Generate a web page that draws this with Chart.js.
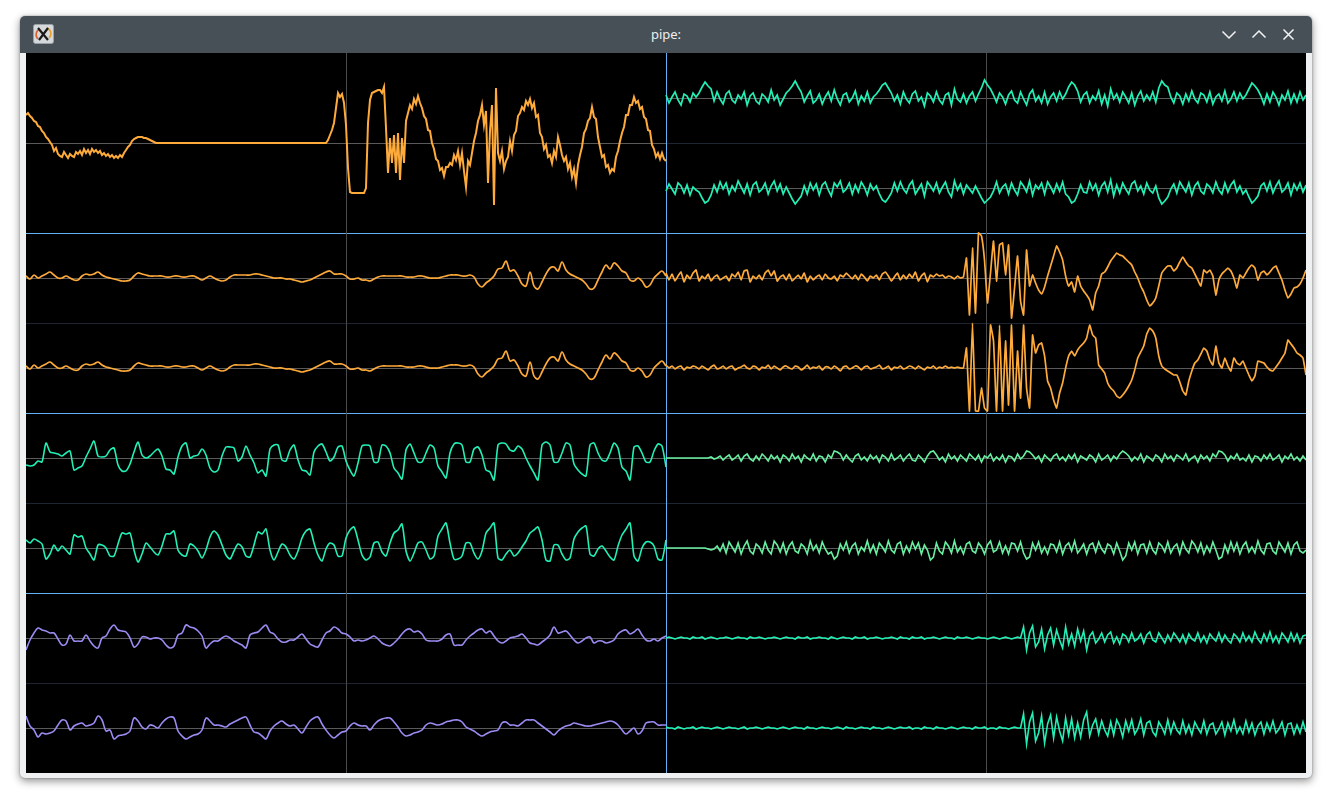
<!DOCTYPE html>
<html>
<head>
<meta charset="utf-8">
<title>pipe:</title>
<script src="https://cdn.jsdelivr.net/npm/chart.js@4.4.1/dist/chart.umd.min.js"></script>
<style>
  html, body { margin:0; padding:0; width:1332px; height:803px; background:#ffffff; overflow:hidden; }
  #win { position:absolute; left:20px; top:16px; width:1292px; height:762px; background:#eff0f1;
         border-radius:5px; box-shadow:0 3px 9px rgba(0,0,0,0.45), 0 0 2px rgba(0,0,0,0.35); overflow:hidden; }
  #bar { position:absolute; left:0; top:0; width:1292px; height:37px; background:#475057; }
  #title { position:absolute; left:0; top:0; width:1292px; height:37px; line-height:37px; text-align:center;
           color:#eceef0; font-family:"Noto Sans","DejaVu Sans",sans-serif; font-size:13px; }
  #icon { position:absolute; left:13px; top:8px; }
  .btn { position:absolute; }
  #plot { position:absolute; left:6px; top:37px; width:1280px; height:720px; background:#000; }
</style>
</head>
<body>
<div id="win">
  <div id="bar"></div>
  <svg id="icon" width="21" height="20" viewBox="0 0 21 20">
    <rect x="0.5" y="0.5" width="20" height="19" rx="2" fill="#d6d9dc" stroke="#9aa0a5"/>
    <path d="M5 15 A6 6 0 0 1 7 5" stroke="#e0602a" stroke-width="1.6" fill="none"/>
    <path d="M14 4 A6 6 0 0 1 16 14" stroke="#e8a030" stroke-width="1.6" fill="none"/>
    <path d="M5 4 L15 16 M15 4 L6 16" stroke="#1a1a1a" stroke-width="2.2" fill="none"/>
  </svg>
  <div id="title">pipe:</div>
  <svg class="btn" style="left:1201px;top:14px" width="16" height="10" viewBox="0 0 16 10">
    <polyline points="1.5,1.5 8,8 14.5,1.5" stroke="#f2f3f4" stroke-width="1.5" fill="none"/>
  </svg>
  <svg class="btn" style="left:1231px;top:13px" width="16" height="10" viewBox="0 0 16 10">
    <polyline points="1.5,8.5 8,2 14.5,8.5" stroke="#f2f3f4" stroke-width="1.5" fill="none"/>
  </svg>
  <svg class="btn" style="left:1262px;top:12px" width="13" height="13" viewBox="0 0 13 13">
    <path d="M1.5 1.5 L11.5 11.5 M11.5 1.5 L1.5 11.5" stroke="#f2f3f4" stroke-width="1.5" fill="none"/>
  </svg>
  <canvas id="plot" width="1280" height="720"></canvas>
</div>
<script>
// ---------------- data: sample values per trace (amplitude, positive = up) ----------------
// row 1, left half: one wide orange channel
const ORANGE_WIDE_L = [
28,30,27,25,22,21,17,16,12,10,
6,4,1,-2,-8,-5,-11,-13,-14,-9,
-12,-15,-11,-13,-14,-9,-11,-8,-12,-6,
-10,-7,-11,-6,-9,-7,-10,-8,-12,-10,
-13,-11,-14,-12,-15,-13,-15,-12,-14,-10,
-7,-4,-2,2,4,5,6,6,6,5,
5,4,3,2,1,0,
0,0,0,0,0,0,0,0,0,0,
0,0,0,0,0,0,0,0,0,0,
0,0,0,0,0,0,0,0,0,0,
0,0,0,0,0,0,0,0,0,0,
0,0,0,0,0,0,0,0,0,0,
0,0,0,0,0,0,0,0,0,0,
0,0,0,0,0,0,0,0,0,0,
0,0,0,0,0,0,0,0,0,0,
0,0,0,0,0,
3,8,13,20,35,50,46,49,40,18,
-25,-49,-50,-50,-50,-50,-50,-50,-50,-45,
20,43,50,51,52,53,53,50,56,15,
-30,5,-20,8,-30,10,-37,5,-20,22,
30,38,34,44,39,47,40,35,27,24,
13,12,0,-6,-16,-18,-27,-25,-33,-24,
-24,-20,-22,-12,-17,-8,-22,-10,-28,-44,
-18,-22,-10,2,10,22,28,38,18,32,
-40,12,38,-62,55,-10,-18,-8,-26,-18,
-14,2,-8,8,12,27,30,36,33,42,
38,44,35,40,26,28,10,6,-6,-2,
-14,-12,-20,-8,-14,6,-2,-12,-18,-14,
-26,-20,-34,-26,-40,-22,-12,-4,10,14,
22,25,36,26,24,6,-4,-14,-12,-24,
-22,-30,-26,-28,-14,-8,2,10,16,28,
28,38,38,46,40,42,34,36,26,24,
13,12,-2,-6,-14,-10,-16,-10,-16,-18
];
// row 1, right half: two teal channels
const TEAL_R1_TOP = [
3,-5,1,6,-2,-7,4,2,-4,5,
1,5,11,16,12,9,-3,6,-1,-6,
4,7,-2,-5,3,-1,6,-7,2,5,
-3,-6,4,1,-4,8,-2,3,-7,-1,
5,8,12,17,11,6,-4,2,7,-5,
-2,4,-6,1,6,-3,8,-1,-7,3,
5,-4,0,7,-6,2,-3,6,-5,1,
4,8,13,15,10,5,-3,3,-6,6,
-1,-5,4,7,-3,1,-8,5,2,-4,
6,-2,-6,3,5,-7,9,-1,-4,4,
-5,2,6,-3,4,10,18,13,9,3,
-4,5,1,-6,3,7,-2,-5,6,-1,
-7,4,8,-3,2,-5,6,-6,1,5,
-3,6,-1,4,11,16,13,7,-4,3,
6,-5,2,-2,7,-6,3,-8,9,-1,
4,-4,6,1,-5,5,-7,2,7,-3,
3,-2,6,-4,10,17,13,11,1,-5,
5,2,-6,4,-3,7,-1,-5,5,3,
-4,6,-6,1,4,-3,7,-5,-1,6,
-3,5,-1,3,9,15,12,8,2,-6,
4,-4,6,1,-7,3,-2,7,-5,4,
-4,6,-2,3
];
const TEAL_R1_BOT = [
-3,4,-1,-6,5,2,-5,3,-7,1,
-2,-4,-10,-15,-13,-7,3,-4,6,-1,
5,-6,2,-3,7,1,-5,4,-7,3,
6,-4,-1,5,-6,2,7,-3,4,-6,
1,-5,-11,-16,-12,-8,2,-6,5,-2,
4,-7,3,6,-2,-8,5,1,7,-4,
-1,5,-6,3,-4,6,1,-7,4,-2,
2,-6,-12,-14,-10,-5,5,-3,6,-1,
-5,3,7,-6,-1,4,-8,6,2,-3,
5,-5,1,6,-4,-9,7,-2,4,-6,
3,-1,-5,2,-4,-10,-15,-12,-9,-3,
6,-5,1,4,-6,5,-2,-7,6,2,
-4,7,-7,3,-1,5,-6,6,1,-5,
4,-3,6,-6,-9,-15,-13,-6,3,-4,
-5,6,-2,4,-7,2,6,-4,8,-8,
3,-5,5,-1,-6,4,7,-3,2,-6,
5,-2,-5,2,-10,-16,-13,-9,-1,4,
-5,6,1,-4,5,-7,2,6,-3,-6,
4,1,-5,6,-2,-6,5,-4,3,7,
-4,2,-6,-2,-9,-15,-12,-8,2,5,
-3,6,-5,2,7,-4,-1,5,-7,4,
-2,5,-4,3
];
// row 2, left half: orange (both channels carry the same signal)
const ORANGE_L2 = [
2,-1,3,0,2,4,6,3,0,0,
2,0,-2,-2,2,4,3,4,6,3,
1,0,-1,-2,-3,-3,-2,2,5,4,
3,2,2,2,2,1,1,2,2,1,
1,2,2,0,-2,0,2,0,-2,-3,
-2,1,3,3,3,3,3,4,4,3,
2,1,0,0,0,-1,-1,-2,-3,-4,
-3,-2,0,2,4,6,7,4,4,4,
2,-1,-1,0,-2,-2,-3,-1,1,2,
2,2,2,2,2,1,1,1,2,2,
1,0,0,0,1,2,3,3,3,2,
2,3,1,-6,-9,-5,-2,2,9,10,
17,7,8,2,-6,-8,6,-8,-11,-4,
4,10,11,7,16,8,4,2,0,-2,
-6,-11,-10,-2,6,13,9,15,12,7,
5,-2,-3,0,-3,-9,-7,0,4,7,
2
];
// row 2, right half: orange channels
const ORANGE_R2_TOP = [
5,-2,4,-3,2,6,-4,3,-1,5,
8,-3,2,-1,4,-3,1,3,-2,0,
2,-3,4,1,6,-2,7,8,-4,2,
-1,3,-2,5,8,2,7,-3,1,3,
-2,4,-3,0,3,-1,5,-4,2,-2,
1,3,-2,4,0,-1,2,-3,3,1,
5,2,-1,3,-2,4,1,-3,2,0,
3,-2,4,6,2,-3,1,5,-2,3,
-1,4,0,6,-3,2,5,-4,3,1,
4,2,3,0,2,1,-1,2,0,1,
20,-37,30,-35,45,42,18,-25,5,37,
-3,33,35,3,33,-40,-10,22,-23,-37,
28,-8,3,-5,-12,-16,-9,2,12,22,
32,26,18,2,-8,-4,-14,2,-8,-13,
-17,-22,-32,-15,-8,4,6,11,17,21,
25,23,22,19,16,13,6,0,-8,-14,
-22,-28,-25,-20,-8,5,9,12,12,7,
10,16,21,16,12,10,4,-2,-8,8,
5,8,2,-17,-2,4,7,10,7,0,
-10,3,0,5,10,13,10,-2,5,7,
3,6,10,12,5,-2,-12,-20,-16,-10,
-9,-6,0,8
];
const ORANGE_R2_BOT = [
3,0,2,-1,1,2,-2,1,0,2,
1,-1,2,0,-2,1,3,-1,0,2,
-1,1,2,-2,0,1,3,0,-1,2,
1,-2,1,0,3,-1,2,0,-2,1,
2,0,-1,2,1,-2,0,3,-1,1,
0,2,-2,1,1,-1,2,0,-3,1,
2,-1,0,2,1,-2,1,2,-1,0,
1,3,-1,0,2,-2,1,0,2,-1,
0,2,1,-1,2,0,-2,1,0,2,
-1,1,0,2,0,1,0,1,0,0,
20,-43,45,-43,-43,-20,-40,-43,43,27,
-43,43,-43,27,-37,43,-43,17,-30,43,
-20,-40,33,15,23,25,12,-13,-20,-32,
-40,-25,-15,0,12,17,12,18,22,25,
30,43,33,30,3,-1,-5,-15,-20,-23,
-28,-30,-27,-23,-18,-12,-2,10,16,22,
34,40,37,30,12,2,-1,-3,-5,-7,
-7,-14,-23,-27,-13,-3,5,8,14,20,
17,8,3,22,5,0,10,2,-3,10,
5,3,7,0,-7,-13,-8,7,6,5,
1,-2,-3,1,5,10,15,28,24,20,
15,13,10,-7
];
// row 3, left half: teal channels
const TEAL_L3_TOP = [
-7,-8,-7,-3,-4,15,6,5,4,2,
5,7,-12,-10,-8,1,9,17,2,1,
2,8,10,-7,-13,-13,-6,6,16,3,
0,2,6,9,2,-11,-12,-16,1,12,
15,0,2,3,9,3,-10,-14,-12,2,
11,11,10,-3,1,12,3,-5,-15,-12,
-18,9,13,13,-2,-3,8,13,-2,-12,
-13,-17,6,12,14,6,-3,1,11,12,
-3,-12,-18,-5,12,13,12,-4,-4,13,
12,5,-10,-15,-21,8,14,5,-4,-4,
5,13,10,-8,-14,-20,5,14,15,13,
-4,-4,9,11,3,-12,-14,-22,13,15,
14,8,7,12,9,0,-8,-15,-22,13,
16,13,-4,-4,5,15,13,-6,-12,-16,
-18,13,15,5,-2,-3,5,15,10,-9,
-13,-22,11,12,5,-4,-4,7,14,12,
-9
];
const TEAL_L3_BOT = [
8,5,9,7,4,-11,-6,3,-3,2,
-2,-6,13,11,12,0,-6,-12,3,3,
0,-8,-8,4,15,14,15,-2,-14,-6,
5,1,-4,-7,2,14,14,17,-2,-7,
-8,4,2,-3,-10,-2,11,17,13,3,
-7,-11,-3,4,1,-8,-9,3,16,14,
19,-2,-12,-4,4,1,-7,-11,-3,10,
17,19,5,-7,-13,-1,5,3,-8,-8,
10,18,21,8,-7,-12,-9,5,6,-4,
-8,5,15,18,24,-3,-13,-5,5,6,
-2,-11,-8,12,19,25,5,-11,-11,-8,
5,5,-5,-11,-3,15,20,25,-10,-12,
-6,-2,-8,-5,1,7,15,18,21,8,
-12,-13,3,3,-6,-12,-10,9,16,20,
22,-6,-8,-1,2,-3,-9,-12,2,13,
19,25,-8,-13,0,6,6,2,-11,-12,
8
];
// row 3, right half: green channels
const MINT_R3_TOP = [
0,0,0,0,0,0,0,0,0,0,
0,0,0,0,0,1,-1,0,2,-2,
1,3,-2,0,3,-3,2,4,-1,-3,
2,-2,4,1,-3,3,-1,2,-4,3,
1,-3,4,-1,2,-4,3,0,-2,4,
-3,2,1,-4,3,0,7,6,4,-2,
3,-1,-4,2,4,-2,1,-3,3,-1,
2,-4,3,1,-3,4,-2,0,3,-3,
1,4,-2,-3,3,0,-4,2,6,7,
3,-2,1,-4,4,-1,2,-3,3,0,
-3,4,1,-2,3,-4,2,0,4,-3,
1,-2,3,-4,2,1,-3,4,-1,2,
7,6,3,-1,2,-4,3,0,-3,2,
4,-2,1,-3,3,-1,4,-4,2,0,
-2,3,1,-4,4,-2,0,3,-3,2,
-1,4,7,5,2,-3,1,-2,4,-4,
2,0,-3,3,1,-4,4,-1,2,-3,
3,1,-2,4,-3,0,2,-4,3,-1,
2,-3,4,1,7,6,3,-3,2,-1,
4,-2,0,-3,3,-4,2,1,-3,3,
-1,4,-2,0,3,-4,2,-1,4,-2,
1,-3,2,-2
];
const MINT_R3_BOT = [
0,0,0,0,0,0,0,0,0,0,
0,0,0,0,-1,-2,-1,2,-3,4,
-5,6,1,-4,5,-6,2,7,-3,-6,
4,1,-5,6,-2,-6,7,3,-4,5,
-6,2,6,-3,-5,4,1,-6,7,-2,
3,-5,6,-1,-6,-4,-11,-8,4,-2,
6,-5,2,5,-6,1,-3,7,-4,3,
-6,5,1,-4,7,-2,-5,4,6,-6,
2,-4,6,-1,5,-6,3,-2,-12,-9,
5,-3,-6,6,2,-5,7,-4,1,-6,
4,6,-3,-5,5,1,-6,3,7,-4,
-2,6,-5,2,-6,5,4,-3,6,-5,
-11,-9,5,-2,6,-5,1,-6,4,3,
-4,6,-6,2,5,-3,7,-5,-1,4,
-6,3,5,-4,6,-1,-5,4,2,-6,
5,-3,-12,-8,5,-2,6,-6,3,4,
-5,6,-2,-6,5,2,-4,6,-5,1,
4,-6,6,-1,-5,7,3,-4,5,-6,
2,-4,6,-2,-11,-9,3,-5,6,-3,
5,-6,2,6,-4,1,-5,7,-2,-6,
4,5,-3,-6,6,1,-4,5,-6,3,
6,-3,-5,-2
];
// row 4, left half: purple channels
const PURPLE_L4_TOP = [
-12,-2,5,10,8,7,5,5,-1,-7,
-6,3,-3,-3,-3,3,-3,-8,-10,0,
2,9,13,8,7,6,0,-9,-6,1,
1,-1,0,0,-2,-7,-10,-8,3,5,
13,11,10,7,2,-10,-6,-3,-3,0,
2,0,-3,-5,-7,-10,3,5,6,10,
13,6,4,-1,-4,-4,-2,-2,1,4,
-1,-6,-8,-9,-2,5,7,11,9,5,
4,1,-3,-2,-3,-2,0,2,-1,-5,
-7,-8,-5,-1,4,8,9,6,7,4,
-2,-3,-3,-3,-1,3,4,-7,-7,-7,
-2,2,5,8,9,5,7,2,-3,-5,
-3,0,1,2,4,0,-5,-6,-7,-4,
-1,3,11,5,6,7,3,-2,-5,-3,
0,1,-5,-3,-3,-5,-4,-2,4,7,
8,4,6,9,3,-2,-3,-1,-3,0,
2
];
const PURPLE_L4_BOT = [
12,2,-2,-9,-5,-6,-5,-3,3,8,
7,-2,2,4,5,2,3,5,12,8,
-3,-2,-11,-8,-7,-6,-3,10,7,1,
-1,3,2,0,5,9,11,10,-3,-8,
-11,-9,-7,-6,-2,10,7,3,3,2,
1,4,6,8,10,11,3,-4,-5,-8,
-11,-3,2,5,7,4,2,3,-1,-5,
1,7,10,11,4,-2,-7,-10,-7,-4,
-3,2,5,3,2,2,-2,3,7,9,
10,10,6,1,-5,-8,-7,-5,-4,-2,
3,5,4,3,4,6,7,8,8,6,
1,-1,-3,-6,-8,-6,-4,-3,-2,5,
6,3,3,2,5,8,8,8,5,2,
-1,-4,-7,-3,0,2,3,5,4,3,
2,2,3,4,5,6,7,6,3,-2,
-6,-3,0,-6,-3,5,6,6,3,3,
3
];
// row 4, right half: teal channels
const TEAL_R4_TOP = [
0,1,0,-1,0,1,0,0,-1,1,
0,0,1,-1,0,1,0,-1,0,0,
1,0,-1,0,1,0,0,-1,1,0,
0,1,0,-1,0,0,1,0,-1,0,
1,0,0,-1,1,0,0,1,-1,0,
0,1,0,0,-1,1,0,-1,0,1,
0,0,-1,1,0,0,1,-1,0,0,
1,0,-1,0,0,1,0,-1,1,0,
0,-1,1,0,0,1,-1,0,0,1,
0,-1,0,1,0,0,-1,1,0,0,
1,0,-1,0,1,0,0,-1,0,1,
0,-1,0,1,0,-1,0,1,0,
11,-12,5,12,-9,-4,9,-11,3,10,
-7,8,-2,-10,11,-6,4,-8,9,-3,
7,-12,2,6,-5,-1,5,-4,3,6,
-5,1,-6,4,2,-4,5,-3,-1,4,
-5,3,6,-2,-4,5,0,-5,3,-3,
5,1,-4,3,-5,4,-1,-3,5,-4,
2,-5,4,0,-3,5,-4,3,-2,-5,
4,1,-4,5,-3,2,-4,6,-1,-5,
4,-3,6,-4,2,-5,5,1,-4,5,
-3,4,-5,2,3
];
const TEAL_R4_BOT = [
1,0,0,-1,1,0,-1,0,0,1,
-1,0,1,0,0,-1,0,1,0,-1,
0,1,0,0,-1,0,1,-1,0,0,
1,0,-1,0,1,0,0,-1,0,1,
0,-1,0,1,0,0,-1,1,0,0,
-1,0,1,0,0,-1,0,1,0,-1,
1,0,0,-1,0,1,0,0,-1,1,
0,0,-1,0,1,0,-1,0,1,0,
0,1,-1,0,0,-1,1,0,0,-1,
1,0,0,-1,0,1,0,-1,0,1,
0,0,-1,1,0,0,1,-1,0,0,
-1,1,0,0,-1,0,1,0,0,
14,-16,6,15,-13,-5,12,-15,4,13,
-10,11,-3,-13,10,-7,9,-10,5,-9,
8,16,-8,3,9,-6,7,-2,-8,6,
-7,8,2,-9,7,-3,8,-6,-1,9,
-7,5,7,-4,-8,6,1,-6,8,-5,
6,-2,-6,7,-5,3,-7,6,0,-5,
7,-6,3,5,-6,-1,6,-7,5,-3,
8,-5,1,-6,7,-4,5,-7,2,6,
-6,5,-3,7,-5,-1,6,-7,4,5,
-6,3,-5,6,-4
];

// ---------------- layout & styles ----------------
const ORANGE = '#ffab3b', TEAL = '#22f0b6', MINT = '#68f0a2', PURPLE = '#9d8af2';
const COL_GRAY = '#5a5a5a', COL_VGRAY = '#4a4a4a', COL_DARK = '#1d2531', COL_BLUE = '#64b0f4';
const HALF = 640; // width of one half in axis units

const TRACES = [
  { values: ORANGE_WIDE_L, x0: 0,   center: 90,  color: ORANGE, tension: 0,    width: 2 },
  { values: TEAL_R1_TOP,   x0: 640, center: 45,  color: TEAL,   tension: 0,    width: 1.7 },
  { values: TEAL_R1_BOT,   x0: 640, center: 135, color: TEAL,   tension: 0,    width: 1.7 },
  { values: ORANGE_L2,     x0: 0,   center: 225, color: ORANGE, tension: 0.35, width: 1.7 },
  { values: ORANGE_L2,     x0: 0,   center: 315, color: ORANGE, tension: 0.35, width: 1.7 },
  { values: ORANGE_R2_TOP, x0: 640, center: 225, color: ORANGE, tension: 0.1,  width: 1.7 },
  { values: ORANGE_R2_BOT, x0: 640, center: 315, color: ORANGE, tension: 0.1,  width: 1.7 },
  { values: TEAL_L3_TOP,   x0: 0,   center: 405, color: TEAL,   tension: 0.25, width: 1.6 },
  { values: TEAL_L3_BOT,   x0: 0,   center: 495, color: TEAL,   tension: 0.25, width: 1.6 },
  { values: MINT_R3_TOP,   x0: 640, center: 405, color: MINT,   tension: 0,    width: 1.6 },
  { values: MINT_R3_BOT,   x0: 640, center: 495, color: MINT,   tension: 0,    width: 1.6 },
  { values: PURPLE_L4_TOP, x0: 0,   center: 585, color: PURPLE, tension: 0.35, width: 1.6 },
  { values: PURPLE_L4_BOT, x0: 0,   center: 675, color: PURPLE, tension: 0.35, width: 1.6 },
  { values: TEAL_R4_TOP,   x0: 640, center: 585, color: TEAL,   tension: 0,    width: 1.6 },
  { values: TEAL_R4_BOT,   x0: 640, center: 675, color: TEAL,   tension: 0,    width: 1.6 }
];

const H_LINES = [
  { v: 90,  from: 0,   to: 640,  c: COL_GRAY },
  { v: 45,  from: 640, to: 1280, c: COL_GRAY },
  { v: 90,  from: 640, to: 1280, c: COL_DARK },
  { v: 135, from: 640, to: 1280, c: COL_GRAY },
  { v: 225, c: COL_GRAY }, { v: 270, c: COL_DARK }, { v: 315, c: COL_GRAY },
  { v: 405, c: COL_GRAY }, { v: 450, c: COL_DARK }, { v: 495, c: COL_GRAY },
  { v: 585, c: COL_GRAY }, { v: 630, c: COL_DARK }, { v: 675, c: COL_GRAY },
  { v: 180, c: COL_BLUE }, { v: 360, c: COL_BLUE }, { v: 540, c: COL_BLUE }
];
const V_LINES = [ { v: 320, c: COL_VGRAY }, { v: 960, c: COL_VGRAY }, { v: 640, c: COL_BLUE } ];

function toPoints(values, x0, center) {
  const dx = HALF / (values.length - 1);
  return values.map((v, i) => ({ x: x0 + i * dx, y: center - v }));
}

const gridPlugin = {
  id: 'scopeGrid',
  beforeDatasetsDraw(chart) {
    const { ctx, chartArea, scales: { x, y } } = chart;
    ctx.save();
    ctx.fillStyle = '#000';
    ctx.fillRect(chartArea.left, chartArea.top, chartArea.right - chartArea.left, chartArea.bottom - chartArea.top);
    ctx.lineWidth = 1;
    H_LINES.forEach(l => {
      const py = Math.round(y.getPixelForValue(l.v)) + 0.5;
      const a = x.getPixelForValue(l.from === undefined ? 0 : l.from);
      const b = x.getPixelForValue(l.to === undefined ? 1280 : l.to);
      ctx.strokeStyle = l.c;
      ctx.beginPath(); ctx.moveTo(a, py); ctx.lineTo(b, py); ctx.stroke();
    });
    V_LINES.forEach(l => {
      const px = Math.round(x.getPixelForValue(l.v)) + 0.5;
      ctx.strokeStyle = l.c;
      ctx.beginPath(); ctx.moveTo(px, chartArea.top); ctx.lineTo(px, chartArea.bottom); ctx.stroke();
    });
    ctx.restore();
  }
};

new Chart(document.getElementById('plot'), {
  type: 'line',
  data: {
    datasets: TRACES.map(t => ({
      data: toPoints(t.values, t.x0, t.center),
      borderColor: t.color,
      borderWidth: t.width,
      pointRadius: 0,
      fill: false,
      tension: t.tension
    }))
  },
  options: {
    responsive: false,
    animation: false,
    events: [],
    layout: { padding: 0 },
    scales: {
      x: { type: 'linear', min: 0, max: 1280, display: false },
      y: { type: 'linear', min: 0, max: 720, reverse: true, display: false }
    },
    plugins: { legend: { display: false }, tooltip: { enabled: false } }
  },
  plugins: [gridPlugin]
});
</script>
</body>
</html>
